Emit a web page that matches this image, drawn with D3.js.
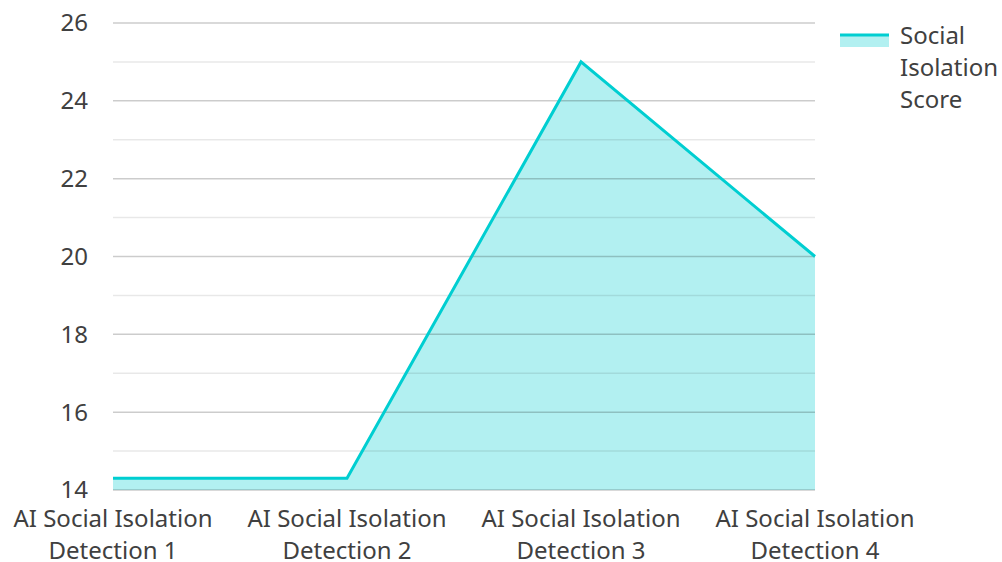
<!DOCTYPE html>
<html><head><meta charset="utf-8">
<script src="https://cdn.jsdelivr.net/npm/d3@7"></script>
<style>body{margin:0;background:#fff}svg{display:block}text{font-family:"Noto Sans","Open Sans",sans-serif;fill:#404040}</style>
</head><body><svg id="c" width="1002" height="562"></svg>
<script>
const categories = [["AI Social Isolation","Detection 1"],["AI Social Isolation","Detection 2"],["AI Social Isolation","Detection 3"],["AI Social Isolation","Detection 4"]];
const values = [14.3, 14.3, 25, 20];
const seriesName = ["Social","Isolation","Score"];
const yTicks = [14,16,18,20,22,24,26];
const yMinor = [15,17,19,21,23,25];

const svg = d3.select("#c");
const x = d3.scalePoint().domain(d3.range(categories.length)).range([113, 815]);
const y = d3.scaleLinear().domain([14, 26]).range([490, 23]);
const color = "#00CED1";
const fs = 24;

// area
const area = d3.area().x((d,i)=>x(i)).y0(y(14)).y1(d=>y(d));
svg.append("path").datum(values).attr("d", area).attr("fill", color).attr("fill-opacity", 0.3);

// grid
svg.append("g").selectAll("line").data(yMinor).join("line")
  .attr("x1", 113).attr("x2", 815).attr("y1", d=>y(d)).attr("y2", d=>y(d))
  .attr("stroke", "#000").attr("stroke-opacity", 0.09).attr("stroke-width", 1.5);
svg.append("g").selectAll("line").data(yTicks).join("line")
  .attr("x1", 113).attr("x2", 815).attr("y1", d=>y(d)).attr("y2", d=>y(d))
  .attr("stroke", "#000").attr("stroke-opacity", 0.2).attr("stroke-width", 1.5);

// line
const line = d3.line().x((d,i)=>x(i)).y(d=>y(d));
svg.append("path").datum(values).attr("d", line).attr("fill", "none").attr("stroke", color).attr("stroke-width", 3).attr("stroke-linejoin","miter");

// y axis labels
svg.append("g").selectAll("text").data(yTicks).join("text")
  .attr("x", 88).attr("y", d=>y(d)).attr("dy", "0.35em").attr("text-anchor", "end")
  .attr("font-size", fs).text(d=>d);

// x labels
const xl = svg.append("g").selectAll("text").data(categories).join("text")
  .attr("text-anchor","middle").attr("font-size", fs);
xl.each(function(d,i){
  const t = d3.select(this);
  d.forEach((s,j)=>t.append("tspan").attr("x", x(i)).attr("y", 519 + j*32).attr("dy","0.35em").text(s));
});

// legend
const lg = svg.append("g");
lg.append("rect").attr("x", 840).attr("y", 35).attr("width", 49).attr("height", 12).attr("fill", color).attr("fill-opacity", 0.3);
lg.append("line").attr("x1", 840).attr("x2", 889).attr("y1", 35).attr("y2", 35).attr("stroke", color).attr("stroke-width", 3);
lg.append("text").attr("font-size", fs).selectAll("tspan").data(seriesName).join("tspan")
  .attr("x", 900).attr("y", (d,i)=>36 + i*32).attr("dy","0.35em").text(d=>d);
</script></body></html>
